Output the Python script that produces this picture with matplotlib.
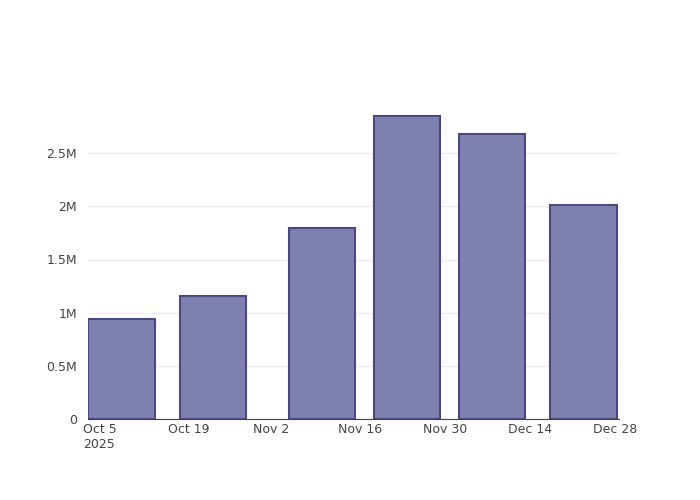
import matplotlib.pyplot as plt
import matplotlib.dates as mdates
import pandas as pd
from matplotlib.ticker import FuncFormatter

# Data
dates = pd.to_datetime(['2025-10-10', '2025-10-25', '2025-11-12',
                        '2025-11-26', '2025-12-10', '2025-12-25'])
values = [0.94e6, 1.156e6, 1.795e6, 2.848e6, 2.68e6, 2.01e6]
tick_dates = pd.to_datetime(['2025-10-05', '2025-10-19', '2025-11-02', '2025-11-16',
                             '2025-11-30', '2025-12-14', '2025-12-28'])
tick_labels = ['Oct 5\n2025', 'Oct 19', 'Nov 2', 'Nov 16', 'Nov 30', 'Dec 14', 'Dec 28']

fig = plt.figure(figsize=(7, 5), dpi=100)
ax = fig.add_axes([88/700, 81/500, 531/700, 319/500])

ax.bar(dates, values, width=10.9, color='#7f7fb0', edgecolor='#4b4a80', linewidth=1.5, zorder=3)

ax.set_xlim(pd.Timestamp('2025-10-04 12:00'), pd.Timestamp('2025-12-30 20:00'))
ax.set_ylim(0, 3.0e6)
ax.set_xticks(tick_dates)
ax.set_xticklabels(tick_labels, ha='left')
for lbl in ax.get_xticklabels():
    lbl.set_x(0)
ax.set_yticks([0, 0.5e6, 1e6, 1.5e6, 2e6, 2.5e6])
ax.yaxis.set_major_formatter(FuncFormatter(lambda v, p: '0' if v == 0 else f'{v/1e6:g}M'))

for s in ['top', 'right', 'left']:
    ax.spines[s].set_visible(False)
ax.spines['bottom'].set_color('#444444')
ax.grid(axis='y', color='#eeeeee', linewidth=1, zorder=0)
ax.tick_params(axis='y', length=0, labelsize=9, colors='#444444', pad=8)
ax.tick_params(axis='x', length=0, labelsize=9, colors='#444444', pad=3)
# shift x labels so they start near the tick like plotly
import matplotlib.transforms as mtrans
offset = mtrans.ScaledTranslation(-6/72, 0, fig.dpi_scale_trans)
for lbl in ax.get_xticklabels():
    lbl.set_transform(lbl.get_transform() + offset)

fig.savefig('out.png', dpi=100)
